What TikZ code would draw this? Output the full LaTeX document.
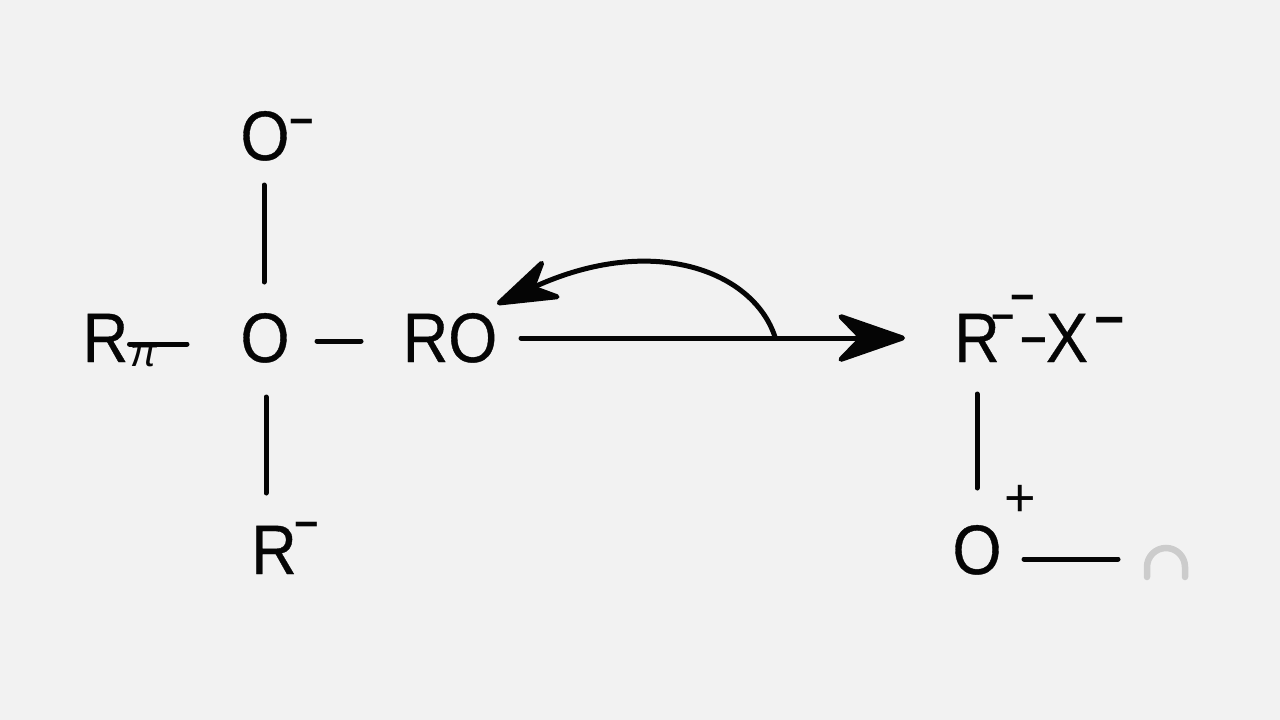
\documentclass[tikz,border=0pt]{standalone}
\usepackage{fontspec}
\setmainfont{Liberation Sans}
\newfontfamily\atomfont[FakeStretch=0.9,FakeBold=0.5]{Liberation Sans}
\usetikzlibrary{arrows.meta,calc}
\definecolor{paper}{HTML}{F2F2F2}
\definecolor{ink}{HTML}{050505}
\definecolor{faint}{HTML}{CCCCCC}
\tikzset{
  x=1pt,y=-1pt,
  atom/.style={inner sep=0pt,anchor=base,text=ink,font=\fontsize{70}{70}\selectfont\atomfont},
  charge/.style={inner sep=0pt,anchor=center,text=ink,font=\fontsize{#1}{#1}\selectfont\bfseries},
  charge/.default=42,
  bond/.style={draw=ink,line width=5pt,line cap=round},
  headbig/.style={-{Stealth[length=78pt,width=54pt,inset=26pt,round]}},
  headcurve/.style={-{Stealth[length=72pt,width=48pt,inset=24pt,round]}},
}
\begin{document}
\begin{tikzpicture}
\useasboundingbox (0,0) rectangle (1280,720);
\fill[paper] (0,0) rectangle (1280,720);
% left structure
\node[atom] (Otop) at (265,160) {O};
\node[charge] (Otopc) at (302,127) {−};
\node[atom] (Ocen) at (265,362) {O};
\node[atom] (Rleft) at (105.5,362) {R};
\node[inner sep=0pt,anchor=base,text=ink,font=\fontsize{40}{40}\selectfont\itshape] (pi) at (144,366) {π};
\node[atom] (Rbot) at (274,574) {R};
\node[charge] (Rbotc) at (307,530) {−};
\node[atom] (RO) at (450,362) {RO};
% right structure
\node[atom] (Rr) at (977,362) {R};
\node[charge=40] (Rrc) at (1003.5,323) {−};
\node[charge] (top) at (1023,303) {−};
\node[charge=46] (mid) at (1034,347) {−};
\node[atom] (X) at (1067,362) {X};
\node[charge=52] (Xc) at (1110,327) {−};
\node[atom] (Olow) at (977,574) {O};
\node[inner sep=0pt,anchor=center,text=ink,font=\fontsize{54}{54}\selectfont] (plus) at (1020,501) {+};
\coordinate (cend) at (1118,559);
\coordinate (split) at (775,337);
% bonds
\draw[bond] ($(Otop.base)+(-1,25)$) -- ($(Ocen.base)+(-1,-80)$);
\draw[bond] ($(Rleft.base)+(24,-18)$) -- ($(Ocen.base)+(-78,-18)$);
\draw[bond] ($(Ocen.base)+(52,-21)$) -- ($(RO.base)+(-89,-21)$);
\draw[bond] ($(Ocen.base)+(1,35)$) -- ($(Rbot.base)+(-8,-81)$);
\draw[bond] ($(Rr.base)+(0,32)$) -- ($(Olow.base)+(0,-86)$);
\draw[bond] ($(Olow.base)+(47,-15)$) -- (cend);
% arrows
\draw[bond,headbig] ($(RO.base)+(71,-24)$) -- ($(Rr.base)+(-72,-24)$);
\draw[draw=ink,line width=5pt,headcurve] (split) .. controls (754,272) and (654,232) .. ($(RO.base)+(47,-58)$);
% faint mark
\draw[draw=faint,line width=6.5pt,line cap=round] (1147,577) -- (1147,567) arc[start angle=180,end angle=360,radius=19] -- (1185,577);
\end{tikzpicture}
\end{document}
